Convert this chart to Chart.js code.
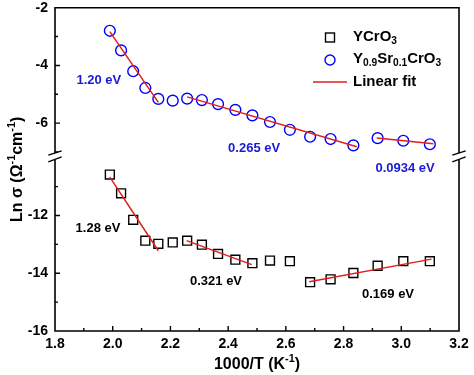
<!DOCTYPE html>
<html>
<head>
<meta charset="utf-8">
<script src="https://cdn.jsdelivr.net/npm/chart.js@4.4.1/dist/chart.umd.min.js"></script>
<style>
  html, body { margin: 0; padding: 0; background: #fff; }
  #wrap { width: 474px; height: 375px; }
</style>
</head>
<body>
<div id="wrap"><canvas id="grafico"></canvas></div>
<script>
// Datos: YCrO3 (eje inferior) y Y0.9Sr0.1CrO3 (eje superior)
const xPuro = [1.990, 2.029, 2.071, 2.113, 2.158, 2.208, 2.258, 2.309, 2.365, 2.425, 2.484, 2.545, 2.614, 2.684, 2.755, 2.834, 2.918, 3.007, 3.099];
const yPuro = [-10.58, -11.23, -12.15, -12.87, -12.98, -12.93, -12.87, -13.01, -13.33, -13.53, -13.65, -13.56, -13.58, -14.31, -14.21, -13.99, -13.74, -13.58, -13.58];
const xDopado = [1.990, 2.029, 2.071, 2.113, 2.158, 2.208, 2.258, 2.309, 2.365, 2.425, 2.484, 2.545, 2.614, 2.684, 2.755, 2.834, 2.918, 3.007, 3.099];
const yDopado = [-2.80, -3.48, -4.20, -4.78, -5.16, -5.22, -5.15, -5.20, -5.34, -5.54, -5.73, -5.96, -6.23, -6.47, -6.55, -6.77, -6.52, -6.61, -6.73];

// Rectas de ajuste (extremos)
const ajustePuroX = [[1.990, 2.158], [2.256, 2.482], [2.681, 3.105]];
const ajustePuroY = [[-10.67, -13.22], [-12.87, -13.70], [-14.29, -13.51]];
const ajusteDopX = [[1.990, 2.158], [2.258, 2.846], [2.915, 3.111]];
const ajusteDopY = [[-2.83, -5.28], [-5.09, -6.82], [-6.51, -6.71]];

// Energías de activación
const energiasPuro = ['1.28 eV', '0.321 eV', '0.169 eV'];
const energiasDop = ['1.20 eV', '0.265 eV', '0.0934 eV'];
const posPuro = [[1.949, -12.45], [2.358, -14.29], [2.954, -14.74]];
const posDop = [[1.952, -4.52, 'yTop'], [2.490, -6.86, 'yTop'], [3.013, -10.37, 'yBot']];

// Marcas de los ejes
const ticksX = [1.8, 2.0, 2.2, 2.4, 2.6, 2.8, 3.0, 3.2];
const ticksYTop = [-2, -4, -6];
const ticksYBot = [-12, -14, -16];

const AZUL = '#0000ff';
const AZUL_TXT = '#1a1ad2';
const ROJO = '#e01e1e';
const FUENTE = "'Liberation Sans', Arial, sans-serif";
Chart.defaults.font.family = FUENTE;

const puntos = (xs, ys) => xs.map((x, i) => ({ x: x, y: ys[i] }));

const datasets = [
  {
    label: 'YCrO3', data: puntos(xPuro, yPuro), yAxisID: 'yBot',
    pointStyle: 'rect', pointRadius: 6.3, borderColor: '#000', borderWidth: 1.4,
    backgroundColor: 'rgba(0,0,0,0)', showLine: false, order: 1
  },
  {
    label: 'Y0.9Sr0.1CrO3', data: puntos(xDopado, yDopado), yAxisID: 'yTop',
    pointStyle: 'circle', pointRadius: 5.4, borderColor: AZUL, borderWidth: 1.4,
    backgroundColor: 'rgba(0,0,0,0)', showLine: false, order: 1
  }
];
ajustePuroX.forEach((xs, i) => datasets.push({
  label: 'Linear fit', data: puntos(xs, ajustePuroY[i]), yAxisID: 'yBot',
  showLine: true, pointRadius: 0, borderColor: ROJO, borderWidth: 1.5, order: 0
}));
ajusteDopX.forEach((xs, i) => datasets.push({
  label: 'Linear fit', data: puntos(xs, ajusteDopY[i]), yAxisID: 'yTop',
  showLine: true, pointRadius: 0, borderColor: ROJO, borderWidth: 1.5, order: 0
}));

// texto con subíndices / superíndices
function textoRico(ctx, partes, x, y, tam, alinear) {
  const medir = p => {
    ctx.font = 'bold ' + (p.s ? tam * 0.68 : tam) + 'px ' + FUENTE;
    return ctx.measureText(p.t).width;
  };
  const total = partes.reduce((s, p) => s + medir(p), 0);
  let cx = alinear === 'left' ? x : x - total / 2;
  ctx.textAlign = 'left';
  ctx.textBaseline = 'middle';
  partes.forEach(p => {
    const w = medir(p);
    const dy = p.s === 'sup' ? -tam * 0.35 : (p.s === 'sub' ? tam * 0.3 : 0);
    ctx.fillText(p.t, cx, y + dy);
    cx += w;
  });
}

const decorado = {
  id: 'decorado',
  afterDraw(chart) {
    const { ctx, chartArea: a, scales } = chart;
    const sx = scales.x, yt = scales.yTop, yb = scales.yBot;
    const yc = yt.bottom;
    ctx.save();
    ctx.strokeStyle = '#000';
    ctx.lineWidth = 1.6;
    // marco con corte
    ctx.beginPath();
    ctx.moveTo(a.left, yc - 3.3); ctx.lineTo(a.left, a.top); ctx.lineTo(a.right, a.top); ctx.lineTo(a.right, yc - 3.3);
    ctx.moveTo(a.left, yc + 3.3); ctx.lineTo(a.left, a.bottom); ctx.lineTo(a.right, a.bottom); ctx.lineTo(a.right, yc + 3.3);
    ctx.stroke();
    ctx.lineWidth = 1.2;
    [a.left, a.right].forEach(x0 => {
      ctx.beginPath();
      ctx.moveTo(x0 - 6.7, yc - 1.2); ctx.lineTo(x0 + 6.7, yc - 5.5);
      ctx.moveTo(x0 - 6.7, yc + 5.5); ctx.lineTo(x0 + 6.7, yc + 0.5);
      ctx.stroke();
    });
    // marcas hacia dentro
    ctx.lineWidth = 1.4;
    ctx.beginPath();
    for (let v = -3; v >= -7; v--) {
      const py = yt.getPixelForValue(v);
      ctx.moveTo(a.left, py); ctx.lineTo(a.left + (v % 2 === 0 ? 5 : 3), py);
    }
    for (let v = -11; v >= -15; v--) {
      const py = yb.getPixelForValue(v);
      ctx.moveTo(a.left, py); ctx.lineTo(a.left + (v % 2 === 0 ? 5 : 3), py);
    }
    for (let i = 1; i < 14; i++) {
      const px = sx.getPixelForValue(1.8 + i * 0.1);
      ctx.moveTo(px, a.bottom); ctx.lineTo(px, a.bottom - (i % 2 === 0 ? 5 : 3));
    }
    ctx.stroke();

    // títulos de los ejes
    ctx.fillStyle = '#000';
    textoRico(ctx, [{ t: '1000/T (K' }, { t: '-1', s: 'sup' }, { t: ')' }], (a.left + a.right) / 2, 365, 16);
    ctx.save();
    ctx.translate(18, (a.top + a.bottom) / 2);
    ctx.rotate(-Math.PI / 2);
    textoRico(ctx, [{ t: 'Ln σ (Ω' }, { t: '-1', s: 'sup' }, { t: 'cm' }, { t: '-1', s: 'sup' }, { t: ')' }], 0, 0, 16);
    ctx.restore();

    // leyenda
    ctx.strokeStyle = '#000'; ctx.lineWidth = 1.4;
    ctx.strokeRect(325.5, 33, 9, 9);
    ctx.strokeStyle = AZUL;
    ctx.beginPath(); ctx.arc(330, 60, 5, 0, Math.PI * 2); ctx.stroke();
    ctx.strokeStyle = ROJO; ctx.lineWidth = 1.5;
    ctx.beginPath(); ctx.moveTo(313, 82); ctx.lineTo(347, 82); ctx.stroke();
    ctx.fillStyle = '#000';
    textoRico(ctx, [{ t: 'YCrO' }, { t: '3', s: 'sub' }], 353, 37, 15, 'left');
    textoRico(ctx, [{ t: 'Y' }, { t: '0.9', s: 'sub' }, { t: 'Sr' }, { t: '0.1', s: 'sub' }, { t: 'CrO' }, { t: '3', s: 'sub' }], 353, 59, 15, 'left');
    textoRico(ctx, [{ t: 'Linear fit' }], 353, 82, 15, 'left');

    // energías de activación
    ctx.font = 'bold 13px ' + FUENTE;
    ctx.textAlign = 'center';
    ctx.textBaseline = 'middle';
    ctx.fillStyle = '#000';
    energiasPuro.forEach((t, i) => {
      ctx.fillText(t, sx.getPixelForValue(posPuro[i][0]), yb.getPixelForValue(posPuro[i][1]));
    });
    ctx.fillStyle = AZUL_TXT;
    energiasDop.forEach((t, i) => {
      const esc = scales[posDop[i][2]];
      ctx.fillText(t, sx.getPixelForValue(posDop[i][0]), esc.getPixelForValue(posDop[i][1]));
    });
    ctx.restore();
  }
};

const fuenteTicks = { size: 14, weight: 'bold', family: FUENTE };
const ejeY = (min, max, peso, marcas) => ({
  type: 'linear', position: 'left', stack: 'izq', stackWeight: peso, min: min, max: max,
  afterBuildTicks: s => { s.ticks = marcas.map(v => ({ value: v })); },
  afterFit: s => { s.width = 55; s.paddingTop = 0; s.paddingBottom = 0; },
  ticks: { font: fuenteTicks, color: '#000', padding: 7, callback: v => String(v) },
  grid: { display: false, drawTicks: false },
  border: { display: false }
});

new Chart(document.getElementById('grafico').getContext('2d'), {
  type: 'scatter',
  data: { datasets: datasets },
  options: {
    responsive: true,
    maintainAspectRatio: false,
    animation: false,
    layout: { padding: { top: 6, right: 15, left: 0, bottom: 0 } },
    plugins: { legend: { display: false }, tooltip: { enabled: false } },
    scales: {
      x: {
        type: 'linear', min: 1.8, max: 3.2,
        afterBuildTicks: s => { s.ticks = ticksX.map(v => ({ value: v })); },
        afterFit: s => { s.height = 44; s.paddingLeft = 0; s.paddingRight = 0; },
        ticks: { font: fuenteTicks, color: '#000', padding: 5, maxRotation: 0, autoSkip: false, callback: v => v.toFixed(1) },
        grid: { display: false, drawTicks: false },
        border: { display: false }
      },
      yBot: ejeY(-16, -9.95, 6.05, ticksYBot),
      yTop: ejeY(-7.15, -2, 5.15, ticksYTop)
    }
  },
  plugins: [decorado]
});
</script>
</body>
</html>
